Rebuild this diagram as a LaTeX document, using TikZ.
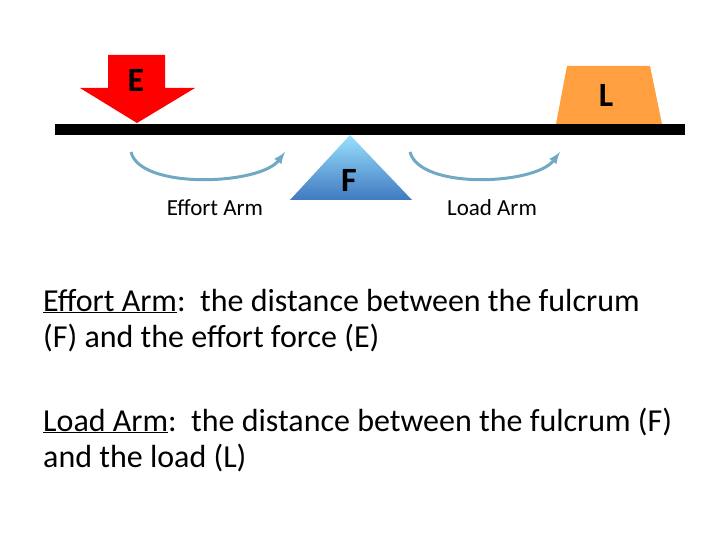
\documentclass[tikz,border=0pt]{standalone}
\usepackage{fontspec}
\setmainfont{Carlito}
\begin{document}
\begin{tikzpicture}[x=1pt,y=-1pt,
  lbl/.style={font=\fontsize{23}{26}\selectfont,inner sep=0},
  body/.style={font=\fontsize{32}{36}\selectfont,anchor=base west,align=left,inner sep=0},
  big/.style={font=\bfseries\fontsize{34}{36}\selectfont,inner sep=0},
  arc/.style={draw=blue!30!cyan!40!gray!80,line width=3pt,-latex}]
\useasboundingbox (0,0) rectangle (720,540);
\fill[red] (108,55) -- (165,55) -- (165,88) -- (195,88) -- (137,123) -- (80,88) -- (108,88) -- cycle;
\node[big] (E) at (136,80) {E};
\fill[orange!75!white] (567,66) -- (650,66) -- (662,124) -- (556,124) -- cycle;
\node[big] (L) at (606,95) {L};
\fill[black] (55,124) rectangle (685,135);
\shade[top color=blue!30!cyan!40, bottom color=blue!55!cyan!50!gray] (350,135) -- (412,200) -- (290,200) -- cycle;
\node[big] (F) at (349,180) {F};
\coordinate (a1) at (131,152); \coordinate (a2) at (285,152);
\coordinate (b1) at (410,152); \coordinate (b2) at (560,152);
\draw[arc] (a1) .. controls (140,190) and (260,185) .. (a2);
\draw[arc] (b1) .. controls (420,190) and (535,185) .. (b2);
\node[lbl] (ea) at (215,208) {Effort Arm};
\node[lbl] (la) at (492,208) {Load Arm};
\node[body] (t1) at (43,347) {\underline{Effort Arm}:\ \ the distance between the fulcrum\\(F) and the effort force (E)};
\node[body] (t2) at (43,467) {\underline{Load Arm}:\ \ the distance between the fulcrum (F)\\and the load (L)};
\end{tikzpicture}
\end{document}
